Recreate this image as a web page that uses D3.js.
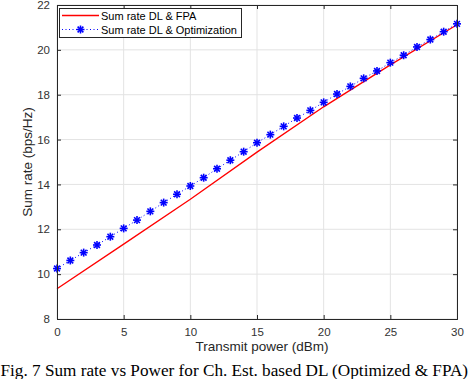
<!DOCTYPE html>
<html>
<head>
<meta charset="utf-8">
<script src="https://cdn.jsdelivr.net/npm/d3@7"></script>
<style>
  html, body { margin: 0; padding: 0; background: #fff; }
  svg { display: block; }
</style>
</head>
<body>
<svg id="chart" width="474" height="379"></svg>
<script>
// ---- data ----
const powerOpt = d3.range(0, 31); // 0..30 dBm
const sumRateOpt = [10.25, 10.61, 10.96, 11.30, 11.67, 12.04, 12.41, 12.80, 13.19, 13.56,
                    13.93, 14.30, 14.70, 15.08, 15.46, 15.86, 16.22, 16.59, 16.96, 17.30,
                    17.66, 18.03, 18.37, 18.73, 19.06, 19.43, 19.76, 20.13, 20.46, 20.81, 21.16];
const powerFPA = [0, 5, 10, 15, 20, 25, 30];
const sumRateFPA = [9.35, 11.34, 13.34, 15.44, 17.46, 19.33, 21.12];
const xTicks = [0, 5, 10, 15, 20, 25, 30];
const yTicks = [8, 10, 12, 14, 16, 18, 20, 22];
const legendLabels = ["Sum rate DL & FPA", "Sum rate DL & Optimization"];
const xLabel = "Transmit power (dBm)";
const yLabel = "Sum rate (bps/Hz)";
const caption = "Fig. 7 Sum rate vs Power for Ch. Est. based DL (Optimized & FPA)";

// ---- layout ----
const svg = d3.select("#chart");
const L = 57, R = 457, T = 5, B = 319;
const x = d3.scaleLinear().domain([0, 30]).range([L, R]);
const y = d3.scaleLinear().domain([8, 22]).range([B, T]);
const axisColor = "#262626";
const sans = "'Liberation Sans', Arial, Helvetica, sans-serif";

// grid
const g = svg.append("g");
g.selectAll(".gx").data(xTicks).enter().append("line")
  .attr("x1", d => x(d)).attr("x2", d => x(d)).attr("y1", T).attr("y2", B)
  .attr("stroke", "#e3e3e3").attr("stroke-width", 1);
g.selectAll(".gy").data(yTicks).enter().append("line")
  .attr("y1", d => y(d)).attr("y2", d => y(d)).attr("x1", L).attr("x2", R)
  .attr("stroke", "#e3e3e3").attr("stroke-width", 1);

// axes (ticks inward)
const xAxis = d3.axisBottom(x).tickValues(xTicks).tickSize(-4).tickPadding(9);
const yAxis = d3.axisLeft(y).tickValues(yTicks).tickSize(-4).tickPadding(7);
const xTop = d3.axisTop(x).tickValues(xTicks).tickSize(-4).tickFormat("");
const yRight = d3.axisRight(y).tickValues(yTicks).tickSize(-4).tickFormat("");

function styleAxis(sel) {
  sel.select(".domain").attr("stroke", axisColor).attr("stroke-width", 1);
  sel.selectAll(".tick line").attr("stroke", axisColor);
  sel.selectAll(".tick text").attr("fill", "#333")
     .style("font-family", sans).style("font-size", "11.5px");
}

// lines
const lineFPA = d3.line().x((d, i) => x(powerFPA[i])).y(d => y(d));
const lineOpt = d3.line().x((d, i) => x(powerOpt[i])).y(d => y(d));

svg.append("path").datum(sumRateFPA).attr("d", lineFPA)
  .attr("fill", "none").attr("stroke", "#ff0000").attr("stroke-width", 1.3);
svg.append("path").datum(sumRateOpt).attr("d", lineOpt)
  .attr("fill", "none").attr("stroke", "#0000ff").attr("stroke-width", 1)
  .attr("stroke-dasharray", "1,2.5");

// asterisk marker
function star(sel, cx, cy, r) {
  const gg = sel.append("g").attr("transform", `translate(${cx},${cy})`)
    .attr("stroke", "#0000ff").attr("stroke-width", 1.6);
  const a = r * 0.72;
  gg.append("line").attr("x1", -r).attr("x2", r).attr("y1", 0).attr("y2", 0);
  gg.append("line").attr("x1", 0).attr("x2", 0).attr("y1", -r).attr("y2", r);
  gg.append("line").attr("x1", -a).attr("x2", a).attr("y1", -a).attr("y2", a);
  gg.append("line").attr("x1", -a).attr("x2", a).attr("y1", a).attr("y2", -a);
}
const markers = svg.append("g");
sumRateOpt.forEach((v, i) => star(markers, x(powerOpt[i]), y(v), 4));

svg.append("g").attr("transform", `translate(0,${B})`).call(xAxis).call(styleAxis);
svg.append("g").attr("transform", `translate(${L},0)`).call(yAxis).call(styleAxis);
svg.append("g").attr("transform", `translate(0,${T})`).call(xTop).call(styleAxis);
svg.append("g").attr("transform", `translate(${R},0)`).call(yRight).call(styleAxis);

// axis labels
svg.append("text").attr("x", 262).attr("y", 351).attr("text-anchor", "middle")
  .attr("fill", axisColor).style("font-family", sans).style("font-size", "13.5px")
  .text(xLabel);
svg.append("text").attr("transform", `translate(32,${(T + B) / 2}) rotate(-90)`)
  .attr("text-anchor", "middle").attr("fill", axisColor)
  .style("font-family", sans).style("font-size", "13.5px").text(yLabel);

// legend
const lg = svg.append("g");
lg.append("rect").attr("x", 59.5).attr("y", 8.5).attr("width", 182).attr("height", 29)
  .attr("fill", "#fff").attr("stroke", "#262626").attr("stroke-width", 1);
lg.append("line").attr("x1", 62).attr("x2", 99).attr("y1", 15.5).attr("y2", 15.5)
  .attr("stroke", "#ff0000").attr("stroke-width", 1.3);
lg.append("line").attr("x1", 62).attr("x2", 99).attr("y1", 29.5).attr("y2", 29.5)
  .attr("stroke", "#0000ff").attr("stroke-width", 1).attr("stroke-dasharray", "1,2.5");
star(lg, 80.5, 29.5, 4);
lg.selectAll(".lt").data(legendLabels).enter().append("text")
  .attr("x", 101).attr("y", (d, i) => 19.5 + i * 14)
  .attr("fill", "#000").style("font-family", sans).style("font-size", "11px")
  .text(d => d);

// caption
svg.append("text").attr("x", 0.5).attr("y", 376)
  .attr("fill", "#000").style("font-family", "'Liberation Serif', 'Times New Roman', serif")
  .style("font-size", "17.2px").text(caption);
</script>
</body>
</html>
